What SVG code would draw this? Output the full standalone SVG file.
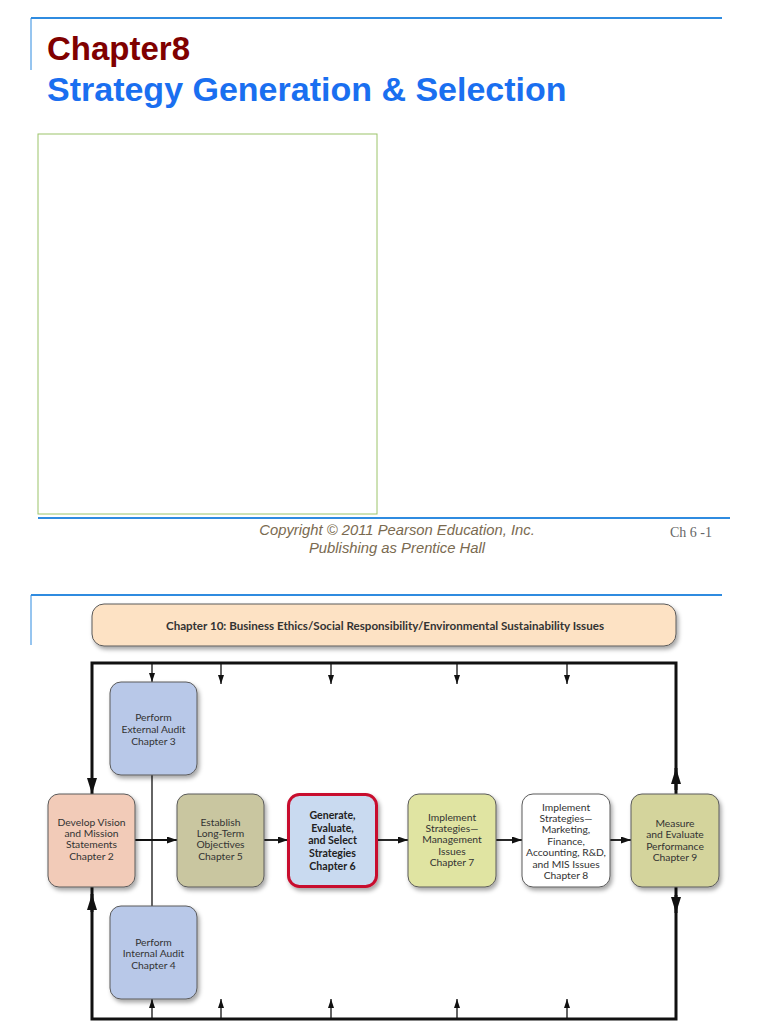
<svg xmlns="http://www.w3.org/2000/svg" width="768" height="1024" viewBox="0 0 768 1024">
<style>
.rule{stroke:#2f8be0;stroke-width:2;fill:none}
.rulev{stroke:#2f8be0;stroke-width:1;fill:none}
.node{stroke:#5a5a5a;stroke-width:1}
.t{font-family:Lato,"Open Sans",sans-serif;font-size:10.3px;fill:#333;text-anchor:middle}
.tb{font-family:Lato,"Open Sans",sans-serif;font-size:10.6px;font-weight:bold;fill:#222;text-anchor:middle}
.loop{stroke:#111;stroke-width:3;fill:none}
.thin{stroke:#111;stroke-width:1.3;fill:none}
.mid{stroke:#111;stroke-width:1.8;fill:none}
.copy{font-family:"Liberation Sans",Arial,sans-serif;font-size:14.8px;font-style:italic;fill:#7a6a50;text-anchor:middle}
</style>
<defs>
<filter id="sh" x="-20%" y="-20%" width="150%" height="150%">
<feDropShadow dx="2" dy="3" stdDeviation="2" flood-color="#000" flood-opacity="0.35"/>
</filter>
<marker id="big" viewBox="0 0 10 10" refX="10" refY="5" markerWidth="16" markerHeight="10" markerUnits="userSpaceOnUse" orient="auto" preserveAspectRatio="none">
<path d="M0,0 L10,5 L0,10 z" fill="#111"/>
</marker>
<marker id="sm" viewBox="0 0 10 10" refX="10" refY="5" markerWidth="9" markerHeight="6" markerUnits="userSpaceOnUse" orient="auto" preserveAspectRatio="none">
<path d="M0,0 L10,5 L0,10 z" fill="#111"/>
</marker>
<marker id="md" viewBox="0 0 10 10" refX="10" refY="5" markerWidth="10" markerHeight="7" markerUnits="userSpaceOnUse" orient="auto" preserveAspectRatio="none">
<path d="M0,0 L10,5 L0,10 z" fill="#111"/>
</marker>
</defs>
<rect width="768" height="1024" fill="#fff"/>

<g id="slide1">
<path class="rule" d="M31,18 L722,18"/>
<path class="rulev" d="M31,18 L31,70"/>
<text x="47" y="60" font-family="'Liberation Sans',Arial,sans-serif" font-size="33" font-weight="bold" fill="#800000">Chapter8</text>
<text x="47" y="101" font-family="'Liberation Sans',Arial,sans-serif" font-size="34" font-weight="bold" fill="#1a6ff0">Strategy Generation &amp; Selection</text>
<rect x="38" y="134" width="339" height="380" fill="none" stroke="#9cc46a" stroke-width="1"/>
<path class="rule" d="M38,518 L730,518"/>
<text class="copy" x="397" y="535">Copyright © 2011 Pearson Education, Inc.</text>
<text class="copy" x="397" y="553">Publishing as Prentice Hall</text>
<text x="670" y="537" font-family="'Liberation Serif','Times New Roman',serif" font-size="14" fill="#666">Ch 6 -1</text>
</g>

<g id="slide2-frame">
<path class="rule" d="M31,595 L722,595"/>
<path class="rulev" d="M31,595 L31,645"/>
</g>

<g id="ch10">
<rect x="92" y="604" width="584" height="42" rx="12" fill="#fde2c4" class="node" filter="url(#sh)"/>
<text x="385" y="630" class="tb" style="font-size:11.6px;fill:#333">Chapter 10: Business Ethics/Social Responsibility/Environmental Sustainability Issues</text>
</g>

<g id="connectors">
<path class="loop" d="M676,794 L676,663 L92,663 L92,794" marker-end="url(#big)"/>
<path class="loop" d="M676,790 L676,768" marker-end="url(#big)"/>
<path class="loop" d="M92,887 L92,1019 L676,1019 L676,887"/>
<path class="loop" d="M92,912 L92,894" marker-end="url(#big)"/>
<path class="loop" d="M676,895 L676,913" marker-end="url(#big)"/>
<path class="thin" d="M152,663 L152,682" marker-end="url(#sm)"/>
<path class="thin" d="M221,663 L221,684" marker-end="url(#sm)"/>
<path class="thin" d="M331,663 L331,684" marker-end="url(#sm)"/>
<path class="thin" d="M457,663 L457,684" marker-end="url(#sm)"/>
<path class="thin" d="M567,663 L567,684" marker-end="url(#sm)"/>
<path class="thin" d="M152,1019 L152,999" marker-end="url(#sm)"/>
<path class="thin" d="M221,1019 L221,999" marker-end="url(#sm)"/>
<path class="thin" d="M331,1019 L331,999" marker-end="url(#sm)"/>
<path class="thin" d="M457,1019 L457,999" marker-end="url(#sm)"/>
<path class="thin" d="M567,1019 L567,999" marker-end="url(#sm)"/>
<path class="thin" d="M152,775 L152,906"/>
<path class="mid" d="M135,840 L177,840" marker-end="url(#md)"/>
<path class="mid" d="M264,840 L288,840" marker-end="url(#md)"/>
<path class="mid" d="M377,840 L408,840" marker-end="url(#md)"/>
<path class="mid" d="M496,840 L522,840" marker-end="url(#md)"/>
<path class="mid" d="M610,840 L631,840" marker-end="url(#md)"/>
</g>

<g id="external-audit">
<rect x="110" y="682" width="87" height="93" rx="11" fill="#b8c8e8" class="node" filter="url(#sh)"/>
<text class="t" x="153.5" y="721">Perform</text>
<text class="t" x="153.5" y="733">External Audit</text>
<text class="t" x="153.5" y="745">Chapter 3</text>
</g>

<g id="develop-vision">
<rect x="48" y="794" width="87" height="93" rx="11" fill="#f2cbb8" class="node" filter="url(#sh)"/>
<text class="t" x="91.5" y="825.5">Develop Vision</text>
<text class="t" x="91.5" y="836.5">and Mission</text>
<text class="t" x="91.5" y="847.5">Statements</text>
<text class="t" x="91.5" y="859.5">Chapter 2</text>
</g>

<g id="establish">
<rect x="177" y="794" width="87" height="93" rx="11" fill="#c9c6a0" class="node" filter="url(#sh)"/>
<text class="t" x="220.5" y="825.5">Establish</text>
<text class="t" x="220.5" y="836.5">Long-Term</text>
<text class="t" x="220.5" y="847.5">Objectives</text>
<text class="t" x="220.5" y="859.5">Chapter 5</text>
</g>

<g id="generate">
<rect x="288.5" y="794.5" width="88" height="92" rx="11" fill="#c9daf0" stroke="#c8102e" stroke-width="3" filter="url(#sh)"/>
<text class="tb" x="332.5" y="819">Generate,</text>
<text class="tb" x="332.5" y="832">Evaluate,</text>
<text class="tb" x="332.5" y="844">and Select</text>
<text class="tb" x="332.5" y="857">Strategies</text>
<text class="tb" x="332.5" y="870">Chapter 6</text>
</g>

<g id="implement-management">
<rect x="408" y="794" width="88" height="93" rx="11" fill="#e0e4a2" class="node" filter="url(#sh)"/>
<text class="t" x="452" y="820.5">Implement</text>
<text class="t" x="452" y="832">Strategies—</text>
<text class="t" x="452" y="843">Management</text>
<text class="t" x="452" y="854.5">Issues</text>
<text class="t" x="452" y="866">Chapter 7</text>
</g>

<g id="implement-marketing">
<rect x="522" y="794" width="88" height="93" rx="11" fill="#ffffff" class="node" filter="url(#sh)"/>
<text class="t" x="566" y="811">Implement</text>
<text class="t" x="566" y="822">Strategies—</text>
<text class="t" x="566" y="833">Marketing,</text>
<text class="t" x="566" y="844.5">Finance,</text>
<text class="t" x="566" y="856">Accounting, R&amp;D,</text>
<text class="t" x="566" y="867.5">and MIS Issues</text>
<text class="t" x="566" y="879">Chapter 8</text>
</g>

<g id="measure">
<rect x="631" y="794" width="88" height="93" rx="11" fill="#d4d49c" class="node" filter="url(#sh)"/>
<text class="t" x="675" y="827">Measure</text>
<text class="t" x="675" y="838">and Evaluate</text>
<text class="t" x="675" y="849.5">Performance</text>
<text class="t" x="675" y="861">Chapter 9</text>
</g>

<g id="internal-audit">
<rect x="110" y="906" width="87" height="93" rx="11" fill="#b8c8e8" class="node" filter="url(#sh)"/>
<text class="t" x="153.5" y="946">Perform</text>
<text class="t" x="153.5" y="957">Internal Audit</text>
<text class="t" x="153.5" y="969">Chapter 4</text>
</g>
</svg>
